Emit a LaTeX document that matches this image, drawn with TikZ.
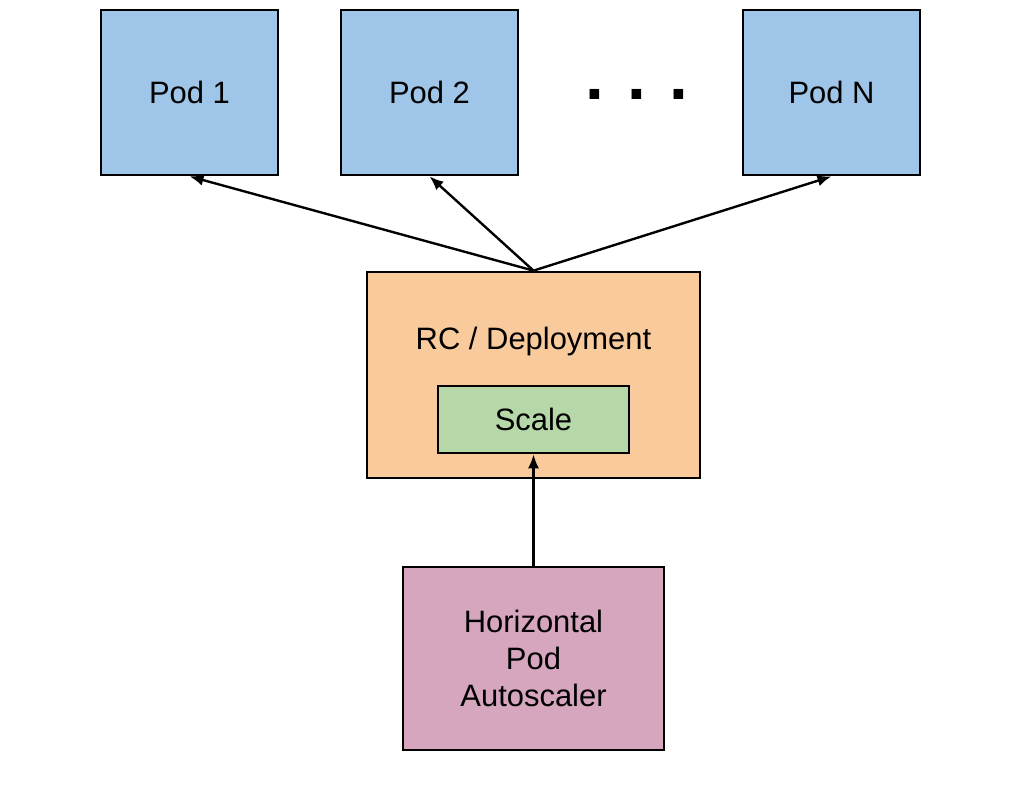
\documentclass[tikz,border=0pt]{standalone}
\usepackage{fontspec}
\setmainfont{Liberation Sans}
\usetikzlibrary{arrows.meta, positioning}

\definecolor{podblue}{HTML}{9FC5E8}
\definecolor{rcorange}{HTML}{F9CB9C}
\definecolor{scalegreen}{HTML}{B6D7A8}
\definecolor{hpapink}{HTML}{D5A6BD}

\begin{document}
\begin{tikzpicture}[
  x=0.025cm, y=-0.025cm,
  font=\fontsize{22}{26.3}\selectfont,
  >={Latex[length=10pt, width=8pt]},
  pod/.style={draw, line width=1.9pt, fill=podblue, align=center, minimum width=4.425cm, minimum height=4.125cm},
  rcbox/.style={draw, line width=1.9pt, fill=rcorange, minimum width=8.325cm, minimum height=5.15cm},
  scalebox/.style={draw, line width=1.9pt, fill=scalegreen, align=center, minimum width=4.775cm, minimum height=1.675cm},
  hpabox/.style={draw, line width=1.9pt, fill=hpapink, align=center, minimum width=6.525cm, minimum height=4.575cm},
  arrow/.style={->, line width=1.7pt}
]
\useasboundingbox (0,0) rectangle (1016,799);

\node[pod] (pod1) at (189.5,92.5) {Pod 1};
\node[pod] (pod2) at (429.5,92.5) {Pod 2};
\node[pod] (podn) at (831.5,92.5) {Pod N};
\node[font=\fontsize{48}{48}\bfseries\selectfont, anchor=base] (dots) at (637,100) {.\hspace{0.58cm}.\hspace{0.58cm}.};

\node[rcbox] (rc) at (533.5,375) {};
\node (rclabel) at (533.5,342) {RC / Deployment};
\node[scalebox] (scale) at (533.5,419.5) {Scale};

\node[hpabox] (hpa) at (533.5,658.5) {Horizontal\\Pod\\Autoscaler};

\draw[arrow] (rc.north) -- (pod1.south);
\draw[arrow] (rc.north) -- (pod2.south);
\draw[arrow] (rc.north) -- (podn.south);
\draw[arrow] (hpa.north) -- (scale.south);
\end{tikzpicture}
\end{document}
